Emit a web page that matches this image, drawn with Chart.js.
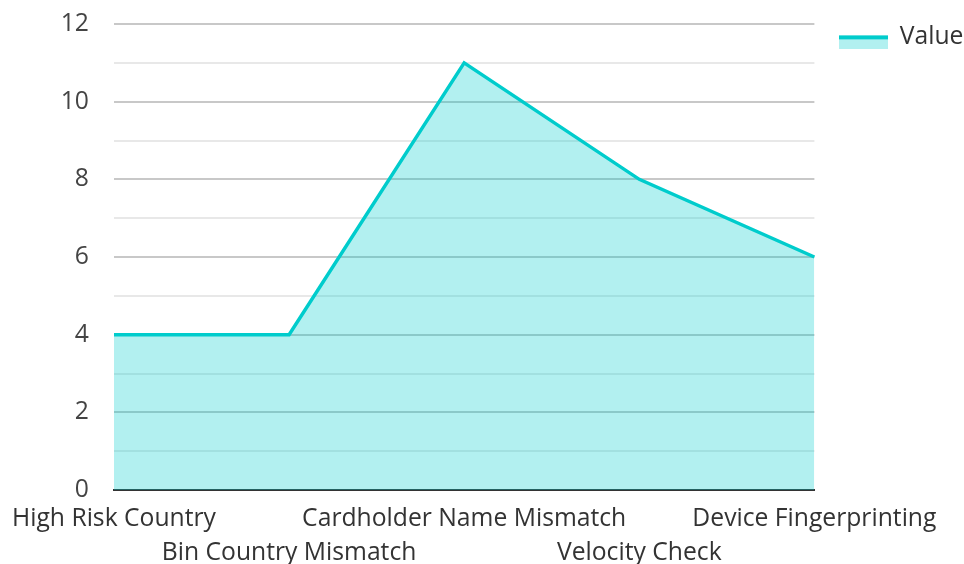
<!DOCTYPE html>
<html>
<head>
<meta charset="utf-8">
<script src="https://cdn.jsdelivr.net/npm/chart.js@4.4.0/dist/chart.umd.min.js"></script>
<style>
html,body{margin:0;padding:0;background:#fff;}
#wrap{width:964px;height:564px;}
</style>
</head>
<body>
<div id="wrap"><canvas id="c" width="964" height="564"></canvas></div>
<script>
const categories = ["High Risk Country", "Bin Country Mismatch", "Cardholder Name Mismatch", "Velocity Check", "Device Fingerprinting"];
const values = [4, 4, 11, 8, 6];
const seriesName = "Value";
const yMin = 0, yMax = 12, yStep = 1, yLabelStep = 2;

const FONT = "'Open Sans', 'Noto Sans', sans-serif";
const FS = 24.7;
const LINE = 'rgb(0,204,204)';
const FILL = 'rgba(0,204,204,0.3)';

// staggered labels: even index on first row, odd on second
const xLabels = categories.map((c, i) => i % 2 === 0 ? [c, ''] : ['', c]);

// legend icon: thick line on top, fill below
const icon = document.createElement('canvas');
icon.width = 49; icon.height = 24;
(function(){
  const g = icon.getContext('2d');
  g.fillStyle = FILL; g.fillRect(0, 13, 49, 11);
  g.fillStyle = LINE; g.fillRect(0, 10, 49, 4);
})();

Chart.defaults.font.family = FONT;

new Chart(document.getElementById('c'), {
  type: 'line',
  data: {
    labels: xLabels,
    datasets: [{
      label: seriesName,
      data: values,
      borderColor: LINE,
      backgroundColor: FILL,
      borderWidth: 3.5,
      fill: 'origin',
      tension: 0,
      pointRadius: 0,
      pointHoverRadius: 0,
      pointStyle: icon
    }]
  },
  options: {
    responsive: false,
    animation: false,
    layout: { padding: { left: 0, right: -9.4, top: -1, bottom: 0 } },
    plugins: {
      tooltip: { enabled: false },
      legend: {
        position: 'right',
        align: 'start',
        labels: {
          usePointStyle: true,
          pointStyleWidth: 47,
          color: '#333',
          font: { size: FS, family: FONT },
          padding: 26
        }
      }
    },
    scales: {
      x: {
        offset: false,
        afterFit: s => { s.height = 74; },
        grid: { display: false, drawTicks: false },
        border: { display: true, color: '#333', width: 2 },
        ticks: {
          autoSkip: false,
          maxRotation: 0,
          minRotation: 0,
          color: '#333',
          padding: 12,
          font: { size: FS, family: FONT, lineHeight: 1.37 }
        }
      },
      y: {
        min: yMin,
        max: yMax,
        afterFit: s => { s.width = 113; s.paddingTop = 24; s.paddingBottom = 5; },
        grid: {
          drawTicks: false,
          lineWidth: 2,
          color: ctx => {
            const v = ctx.tick ? ctx.tick.value : 0;
            if (v === 0) return 'rgba(0,0,0,0)';
            return v % yLabelStep === 0 ? '#c8c8c8' : '#e8e8e8';
          }
        },
        border: { display: false },
        ticks: {
          stepSize: yStep,
          padding: 25,
          color: '#444',
          font: { size: FS, family: FONT },
          callback: v => (v % yLabelStep === 0 ? String(v) : '')
        }
      }
    }
  }
});
</script>
</body>
</html>
